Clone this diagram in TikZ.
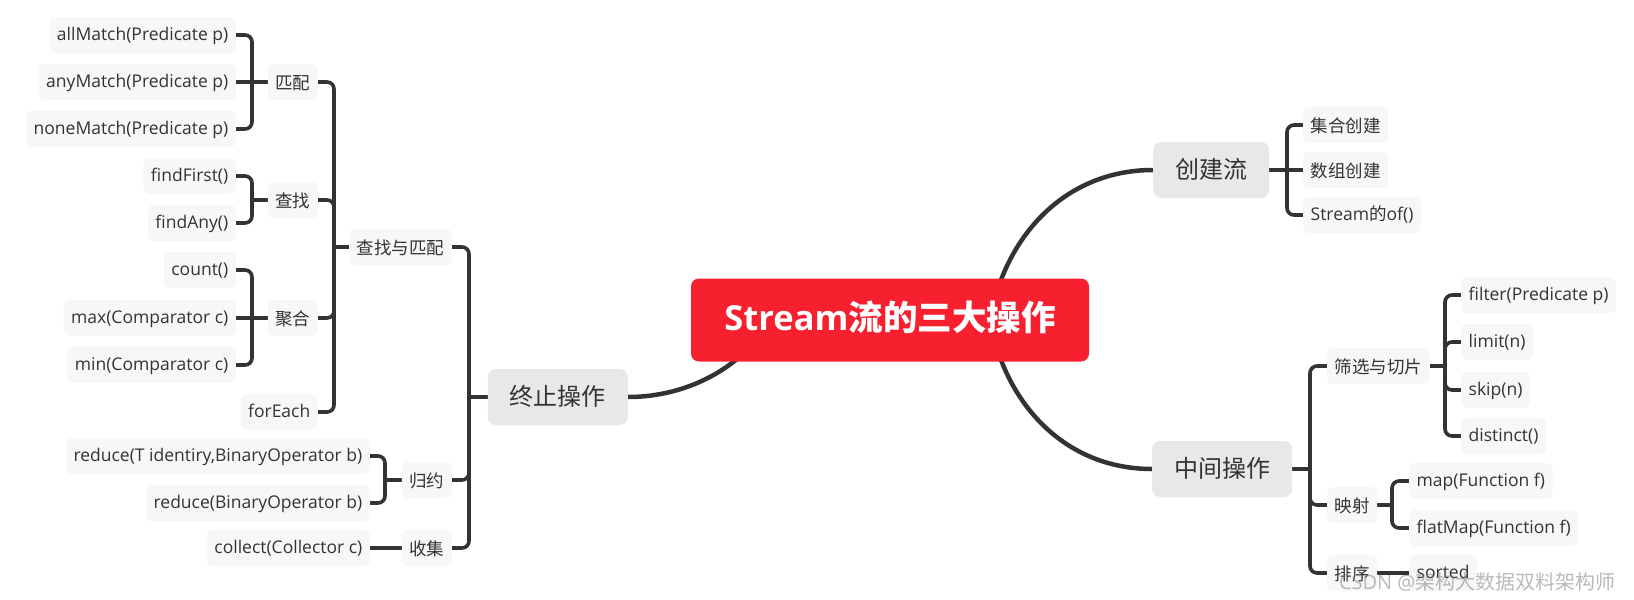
\documentclass[tikz,border=0pt]{standalone}
\usepackage{fontspec}
\setmainfont{Open Sans}
\newfontfamily\cjk{Noto Sans CJK SC}
\usetikzlibrary{backgrounds}
\definecolor{rootred}{RGB}{247,32,47}
\definecolor{inkgray}{RGB}{51,51,51}
\definecolor{maingray}{RGB}{232,232,232}
\definecolor{leafgray}{RGB}{247,247,247}

\begin{document}
\begin{tikzpicture}[x = 1pt, y = -1pt,
  rootbox/.style = {fill = rootred, text = white, rounded corners = 8pt, minimum width = 398pt, minimum height = 83pt, text height = 26pt, text depth = 6pt, font = \fontsize{34.5pt}{40pt}\selectfont\bfseries},
  mainbox/.style = {fill = maingray, text = inkgray, rounded corners = 8pt, inner xsep = 22pt, minimum height = 56pt, text height = 20pt, text depth = 2.8pt, font = \fontsize{24pt}{28pt}\selectfont\cjk},
  leaf/.style = {fill = leafgray, text = inkgray, rounded corners = 6pt, inner xsep = 7.5pt, minimum height = 36pt, text height = 14pt, text depth = 2.6pt, font = \fontsize{17.5pt}{21pt}\selectfont},
  cleaf/.style = {leaf, text height = 16pt, text depth = 2pt, font = \fontsize{17.5pt}{21pt}\selectfont\cjk},
  branch/.style = {draw = inkgray, line width = 3.6pt, rounded corners = 7pt},
  trunk/.style = {draw = inkgray, line width = 4.5pt}]
\useasboundingbox (0, 0) rectangle (1634, 600);

\node[rootbox] (root) at (890, 320) {Stream{\cjk 流的三大操作}};
\coordinate (rootR) at (990, 320);
\coordinate (rootL) at (770, 320);

\node[mainbox, anchor = west] (cjl) at (1153, 170) {创建流};
\node[mainbox, anchor = west] (zjcz) at (1152, 469) {中间操作};
\node[mainbox, anchor = east] (zzcz) at (628, 397) {终止操作};

\node[cleaf, anchor = west] (jhcj) at (1303, 125) {集合创建};
\node[cleaf, anchor = west] (szcj) at (1303, 170) {数组创建};
\node[leaf, anchor = west] (sof) at (1303, 215) {Stream{\cjk 的}of()};
\node[cleaf, anchor = west] (sxqp) at (1327, 366) {筛选与切片};
\node[cleaf, anchor = west] (ys) at (1327, 505) {映射};
\node[cleaf, anchor = west] (px) at (1327, 573) {排序};
\node[leaf, anchor = west] (filt) at (1461, 295) {filter(Predicate p)};
\node[leaf, anchor = west] (lim) at (1461, 342) {limit(n)};
\node[leaf, anchor = west] (skp) at (1461, 390) {skip(n)};
\node[leaf, anchor = west] (dst) at (1461, 436) {distinct()};
\node[leaf, anchor = west] (mp) at (1409, 481) {map(Function f)};
\node[leaf, anchor = west] (fmp) at (1409, 528) {flatMap(Function f)};
\node[leaf, anchor = west] (srt) at (1409, 573) {sorted};

\node[cleaf, anchor = east] (czpp) at (452, 247) {查找与匹配};
\node[cleaf, anchor = east] (gy) at (452, 480) {归约};
\node[cleaf, anchor = east] (sj) at (452, 548) {收集};
\node[cleaf, anchor = east] (pp) at (318, 82) {匹配};
\node[cleaf, anchor = east] (cz) at (318, 200) {查找};
\node[cleaf, anchor = east] (jh) at (318, 318) {聚合};
\node[leaf, anchor = east] (fe) at (318, 412) {forEach};
\node[leaf, anchor = east] (am) at (236, 35) {allMatch(Predicate p)};
\node[leaf, anchor = east] (anm) at (236, 82) {anyMatch(Predicate p)};
\node[leaf, anchor = east] (nm) at (236, 129) {noneMatch(Predicate p)};
\node[leaf, anchor = east] (ff) at (236, 176) {findFirst()};
\node[leaf, anchor = east] (fa) at (236, 223) {findAny()};
\node[leaf, anchor = east] (cnt) at (236, 270) {count()};
\node[leaf, anchor = east] (mx) at (236, 318) {max(Comparator c)};
\node[leaf, anchor = east] (mn) at (236, 365) {min(Comparator c)};
\node[leaf, anchor = east] (rd1) at (370, 456) {reduce(T identiry,BinaryOperator b)};
\node[leaf, anchor = east] (rd2) at (370, 503) {reduce(BinaryOperator b)};
\node[leaf, anchor = east] (col) at (370, 548) {collect(Collector c)};

\coordinate (s0) at (469, 0);
\coordinate (s1) at (334, 0);
\coordinate (s2) at (252, 0);
\coordinate (s3) at (385, 0);
\coordinate (s4) at (1287, 0);
\coordinate (s5) at (1310, 0);
\coordinate (s6) at (1445, 0);
\coordinate (s7) at (1392, 0);

\begin{scope}[on background layer]
\draw[trunk] (rootR) .. controls (1005, 235) and (1066, 170) .. (cjl.west);
\draw[trunk] (rootR) .. controls (1005, 405) and (1066, 469) .. (zjcz.west);
\draw[trunk] (rootL) .. controls (745, 365) and (690, 397) .. (zzcz.east);

\draw[branch] (cjl.east) -- (cjl.east -| s4);
\draw[branch] (jhcj.west) -| (cjl.east -| s4);
\draw[branch] (szcj.west) -- (cjl.east -| s4);
\draw[branch] (sof.west) -| (cjl.east -| s4);

\draw[branch] (zjcz.east) -- (zjcz.east -| s5);
\draw[branch] (sxqp.west) -| (zjcz.east -| s5);
\draw[branch] (ys.west) -| (zjcz.east -| s5);
\draw[branch] (px.west) -| (zjcz.east -| s5);

\draw[branch] (sxqp.east) -- (sxqp.east -| s6);
\draw[branch] (filt.west) -| (sxqp.east -| s6);
\draw[branch] (lim.west) -| (sxqp.east -| s6);
\draw[branch] (skp.west) -| (sxqp.east -| s6);
\draw[branch] (dst.west) -| (sxqp.east -| s6);

\draw[branch] (ys.east) -- (ys.east -| s7);
\draw[branch] (mp.west) -| (ys.east -| s7);
\draw[branch] (fmp.west) -| (ys.east -| s7);
\draw[branch] (px.east) -- (srt.west);

\draw[branch] (zzcz.west) -- (zzcz.west -| s0);
\draw[branch] (czpp.east) -| (zzcz.west -| s0);
\draw[branch] (gy.east) -| (zzcz.west -| s0);
\draw[branch] (sj.east) -| (zzcz.west -| s0);

\draw[branch] (czpp.west) -- (czpp.west -| s1);
\draw[branch] (pp.east) -| (czpp.west -| s1);
\draw[branch] (cz.east) -| (czpp.west -| s1);
\draw[branch] (jh.east) -| (czpp.west -| s1);
\draw[branch] (fe.east) -| (czpp.west -| s1);

\draw[branch] (pp.west) -- (pp.west -| s2);
\draw[branch] (am.east) -| (pp.west -| s2);
\draw[branch] (anm.east) -- (pp.west -| s2);
\draw[branch] (nm.east) -| (pp.west -| s2);

\draw[branch] (cz.west) -- (cz.west -| s2);
\draw[branch] (ff.east) -| (cz.west -| s2);
\draw[branch] (fa.east) -| (cz.west -| s2);

\draw[branch] (jh.west) -- (jh.west -| s2);
\draw[branch] (cnt.east) -| (jh.west -| s2);
\draw[branch] (mx.east) -- (jh.west -| s2);
\draw[branch] (mn.east) -| (jh.west -| s2);

\draw[branch] (gy.west) -- (gy.west -| s3);
\draw[branch] (rd1.east) -| (gy.west -| s3);
\draw[branch] (rd2.east) -| (gy.west -| s3);
\draw[branch] (sj.west) -- (col.east);
\end{scope}

\node[text = gray, opacity = 0.55, font = \fontsize{20pt}{24pt}\selectfont, anchor = east] (wm) at (1619, 582) {CSDN @{\cjk 架构大数据双料架构师}};
\end{tikzpicture}
\end{document}
